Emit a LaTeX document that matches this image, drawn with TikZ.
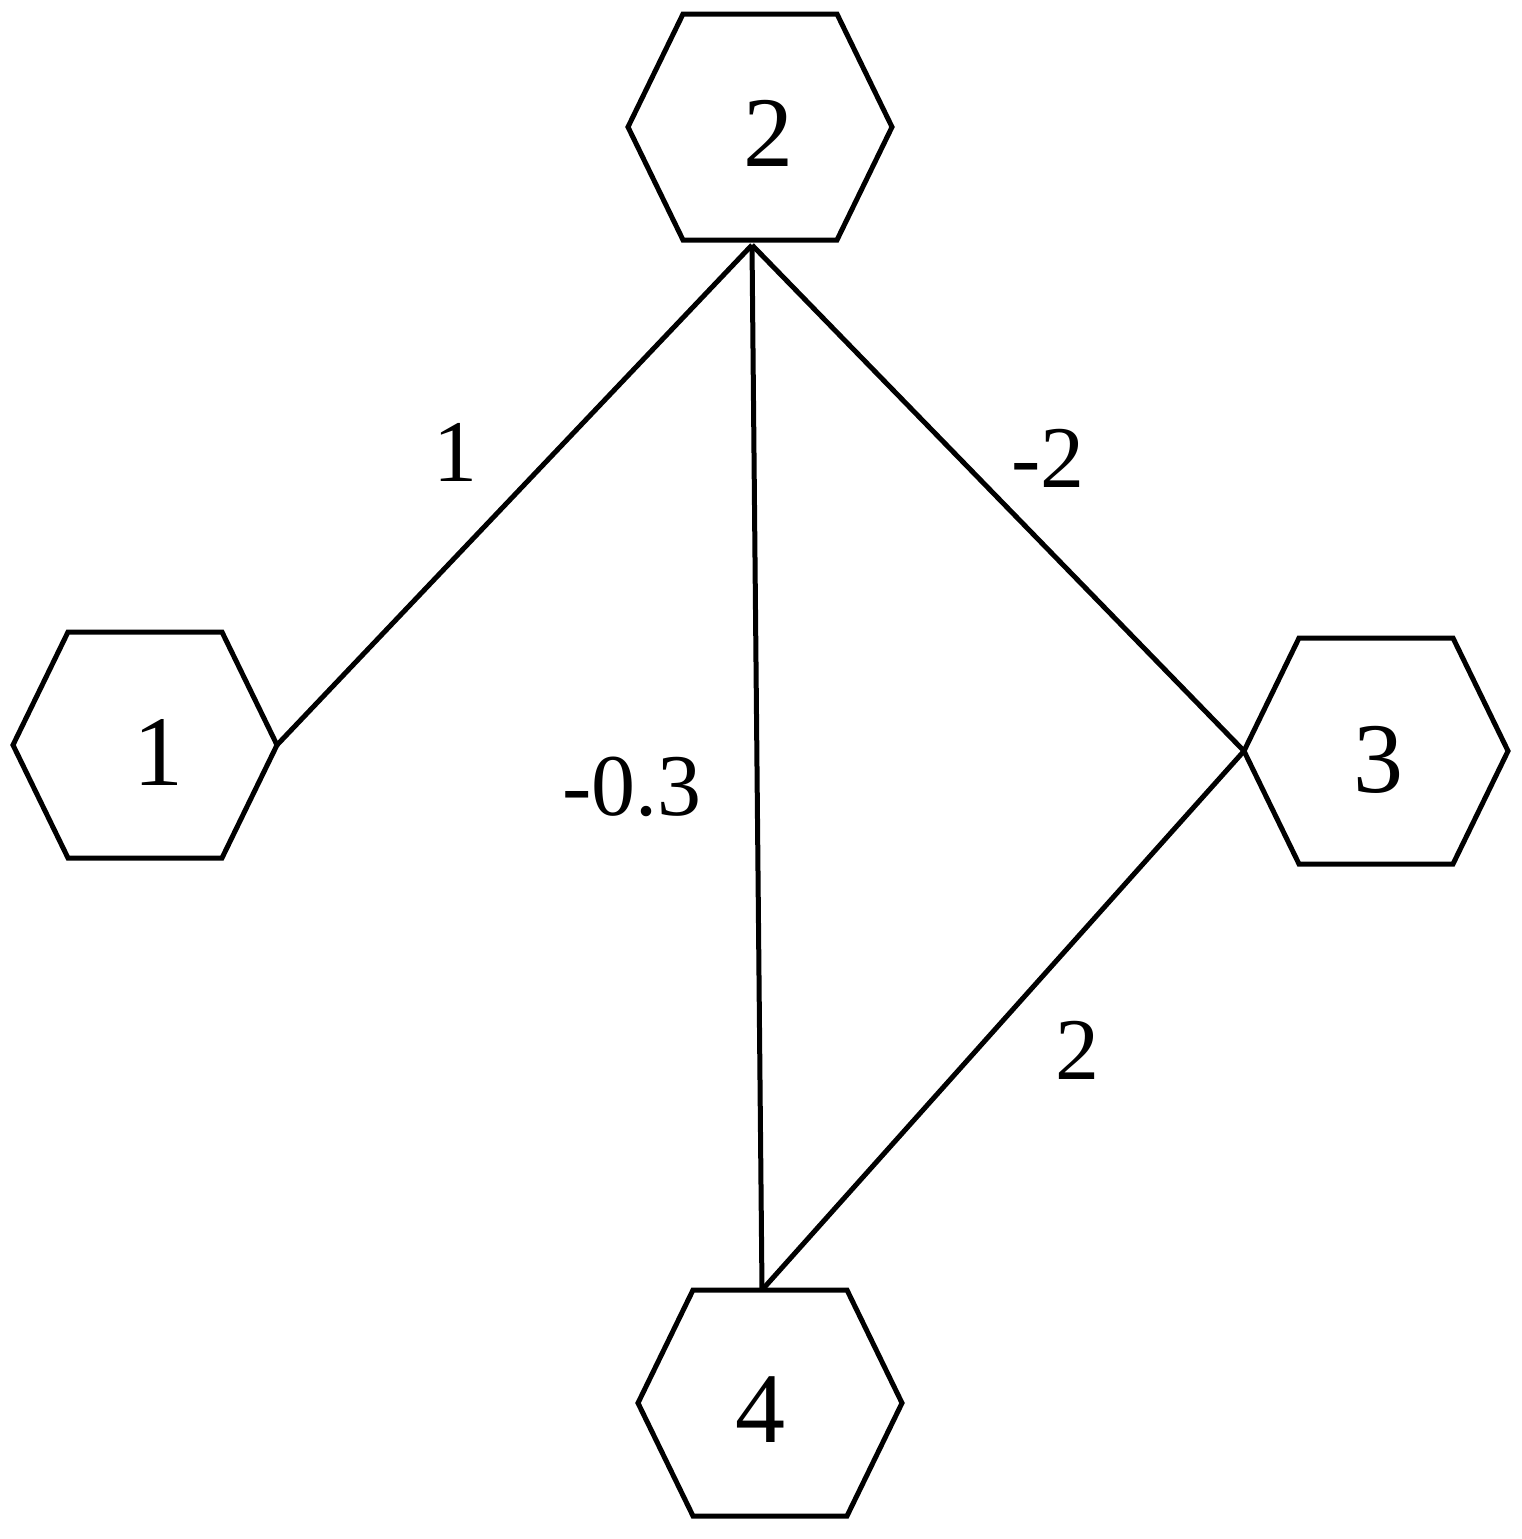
\documentclass[tikz,border=0pt]{standalone}
\usepackage{fontspec}
\setmainfont{Liberation Serif}
\begin{document}
\begin{tikzpicture}[x=1pt,y=-1pt,line width=5pt,
  hexa/.style={draw,line join=miter},
  num/.style={font=\fontsize{100}{100}\selectfont,inner sep=0},
  lab/.style={font=\fontsize{88}{88}\selectfont,inner sep=0}]
\useasboundingbox (0,0) rectangle (1522,1539);
\newcommand\hexat[3]{% name, cx, cy
  \draw[hexa] (#2-77,#3-113) -- (#2+77,#3-113) -- (#2+132,#3) coordinate (#1r)
   -- (#2+77,#3+113) -- (#2-77,#3+113) -- (#2-132,#3) coordinate (#1l) -- cycle;
  \coordinate (#1t) at (#2-8,#3-113);
  \coordinate (#1b) at (#2-8,#3+118);}
\hexat{h2}{760}{127}
\hexat{h1}{145}{745}
\hexat{h3}{1376}{751}
\hexat{h4}{770}{1403}
\node[num] (n2) at (768,133) {2};
\node[num] (n1) at (158,752) {1};
\node[num] (n3) at (1378,760) {3};
\node[num] (n4) at (760,1410) {4};
\draw (h2b) -- (h1r);
\draw (h2b) -- (h3l);
\draw (h2b) -- (h4t);
\draw (h3l) -- (h4t);
\node[lab] (e1) at (455,452) {1};
\node[lab] (e2) at (1048,458) {-2};
\node[lab] (e3) at (632,787) {-0.3};
\node[lab] (e4) at (1077,1050) {2};
\end{tikzpicture}
\end{document}
